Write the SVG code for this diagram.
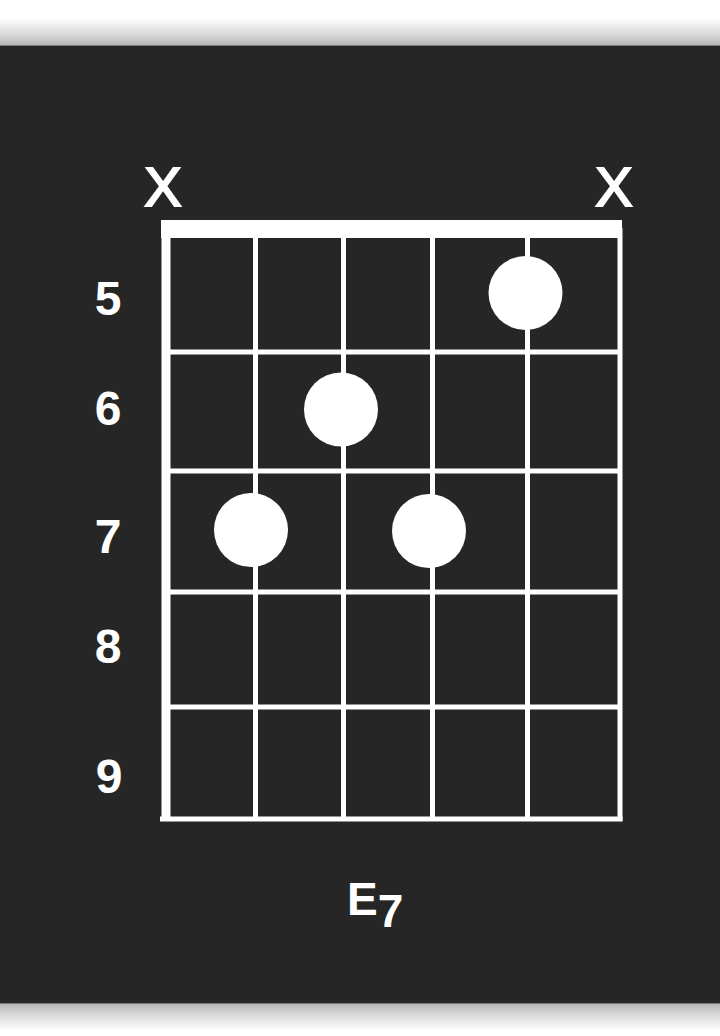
<svg xmlns="http://www.w3.org/2000/svg" width="720" height="1036" viewBox="0 0 720 1036">
  <defs>
    <linearGradient id="shTop" x1="0" y1="0" x2="0" y2="1">
      <stop offset="0" stop-color="#ffffff"/>
      <stop offset="0.6" stop-color="#d8d8d8"/>
      <stop offset="1" stop-color="#b4b4b4"/>
    </linearGradient>
    <linearGradient id="shBot" x1="0" y1="0" x2="0" y2="1">
      <stop offset="0" stop-color="#b4b4b4"/>
      <stop offset="0.4" stop-color="#d8d8d8"/>
      <stop offset="1" stop-color="#ffffff"/>
    </linearGradient>
    <style>
      .grid { stroke: #ffffff; fill: none; }
      .nut { fill: #ffffff; stroke: none; }
      .dot { fill: #ffffff; }
      .fret { font-family: "Liberation Sans", Arial, sans-serif; font-weight: bold; font-size: 48px; fill: #ffffff; text-anchor: middle; }
      .mute { font-family: "Liberation Sans", Arial, sans-serif; font-size: 56px; fill: #ffffff; stroke: #ffffff; stroke-width: 2px; text-anchor: middle; }
      .name { font-family: "Liberation Sans", Arial, sans-serif; font-weight: bold; font-size: 46px; fill: #ffffff; }
    </style>
  </defs>
  <rect width="720" height="1036" fill="#ffffff"/>
  <rect x="0" y="18" width="720" height="28" fill="url(#shTop)"/>
  <rect x="0" y="1003" width="720" height="28" fill="url(#shBot)"/>
  <rect x="0" y="45" width="720" height="959" fill="#262626"/>
  <line x1="0" y1="45.5" x2="720" y2="45.5" stroke="#7a7a7a" stroke-width="1"/>
  <line x1="0" y1="1003.5" x2="720" y2="1003.5" stroke="#7a7a7a" stroke-width="1"/>

  <g id="connectors">
    <g id="grid">
      <rect class="nut" x="161" y="220" width="461" height="18"/>
      <line class="grid" x1="166" y1="228" x2="166" y2="821" stroke-width="9"/>
      <line class="grid" x1="255.5" y1="228" x2="255.5" y2="821" stroke-width="5"/>
      <line class="grid" x1="343.5" y1="228" x2="343.5" y2="821" stroke-width="5"/>
      <line class="grid" x1="432.5" y1="228" x2="432.5" y2="821" stroke-width="5"/>
      <line class="grid" x1="527.5" y1="228" x2="527.5" y2="821" stroke-width="5"/>
      <line class="grid" x1="620" y1="228" x2="620" y2="821" stroke-width="5"/>
      <line class="grid" x1="162" y1="352" x2="622" y2="352" stroke-width="5"/>
      <line class="grid" x1="162" y1="471" x2="622" y2="471" stroke-width="5"/>
      <line class="grid" x1="162" y1="592" x2="622" y2="592" stroke-width="5"/>
      <line class="grid" x1="162" y1="707" x2="622" y2="707" stroke-width="5"/>
      <line class="grid" x1="160" y1="819" x2="622.5" y2="819" stroke-width="5"/>
    </g>
  </g>

  <g id="mute-marks">
    <text class="mute" x="163" y="206">X</text>
    <text class="mute" x="614" y="206">X</text>
  </g>

  <g id="fret-numbers">
    <text class="fret" x="108" y="315">5</text>
    <text class="fret" x="108" y="425">6</text>
    <text class="fret" x="108" y="553">7</text>
    <text class="fret" x="108" y="663">8</text>
    <text class="fret" x="109" y="793">9</text>
  </g>

  <g id="dot-fret5-string5"><circle class="dot" cx="525.5" cy="293" r="37"/></g>
  <g id="dot-fret6-string3"><circle class="dot" cx="341" cy="409.5" r="37"/></g>
  <g id="dot-fret7-string2"><circle class="dot" cx="251" cy="530" r="37"/></g>
  <g id="dot-fret7-string4"><circle class="dot" cx="429" cy="531" r="37"/></g>

  <g id="chord-name">
    <text class="name" x="347" y="915">E<tspan dy="12">7</tspan></text>
  </g>
</svg>
